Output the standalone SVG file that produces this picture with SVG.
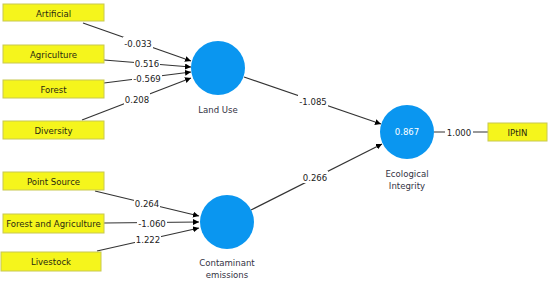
<svg xmlns="http://www.w3.org/2000/svg" width="550" height="284" viewBox="0 0 550 284">
<defs>
<marker id="ah" viewBox="0 0 10 10" refX="10" refY="5" markerWidth="6" markerHeight="6" orient="auto" markerUnits="userSpaceOnUse"><path d="M0,0 L10,5 L0,10 z" fill="#000"/></marker>
</defs>
<style>
.box{fill:#f5f51c;stroke:#c8c850;stroke-width:1}
.bt{font-family:"DejaVu Sans Condensed","DejaVu Sans",sans-serif;font-size:9.5px;fill:#2a2a10;text-anchor:middle;dominant-baseline:central}
.lv{fill:#0a96f0}
.lt{font-family:"DejaVu Sans Condensed","DejaVu Sans",sans-serif;font-size:9.5px;fill:#333344;text-anchor:middle}
.ln{stroke:#333;stroke-width:1.2;fill:none}
.bg{fill:#fff}
.lb{font-family:"DejaVu Sans Condensed","DejaVu Sans",sans-serif;font-size:9.5px;fill:#222;text-anchor:middle;dominant-baseline:central}
</style>
<rect width="550" height="284" fill="#fff"/>
<g id="connectors">
<line class="ln" x1="83" y1="23" x2="191" y2="61" marker-end="url(#ah)"/>
<line class="ln" x1="104" y1="60" x2="191" y2="67" marker-end="url(#ah)"/>
<line class="ln" x1="104" y1="83" x2="191" y2="72" marker-end="url(#ah)"/>
<line class="ln" x1="82" y1="120" x2="191" y2="78" marker-end="url(#ah)"/>
<line class="ln" x1="95" y1="191" x2="199" y2="216" marker-end="url(#ah)"/>
<line class="ln" x1="104" y1="223" x2="199" y2="222" marker-end="url(#ah)"/>
<line class="ln" x1="97" y1="251" x2="199" y2="228" marker-end="url(#ah)"/>
<line class="ln" x1="244" y1="77" x2="381" y2="124" marker-end="url(#ah)"/>
<line class="ln" x1="251" y1="210" x2="382" y2="144" marker-end="url(#ah)"/>
<line class="ln" x1="434" y1="132" x2="488" y2="132"/>
<rect class="bg" x="123" y="37" width="30" height="12"/><text class="lb" x="138" y="43">-0.033</text>
<rect class="bg" x="134" y="57" width="26" height="12"/><text class="lb" x="147" y="63">0.516</text>
<rect class="bg" x="132" y="72" width="30" height="12"/><text class="lb" x="147" y="78">-0.569</text>
<rect class="bg" x="124" y="93" width="26" height="12"/><text class="lb" x="137" y="99">0.208</text>
<rect class="bg" x="134" y="197" width="26" height="12"/><text class="lb" x="147" y="203">0.264</text>
<rect class="bg" x="137" y="217" width="30" height="12"/><text class="lb" x="152" y="223">-1.060</text>
<rect class="bg" x="135" y="233" width="26" height="12"/><text class="lb" x="148" y="239">1.222</text>
<rect class="bg" x="298" y="95" width="30" height="12"/><text class="lb" x="313" y="101">-1.085</text>
<rect class="bg" x="302" y="171" width="26" height="12"/><text class="lb" x="315" y="177">0.266</text>
<rect class="bg" x="445" y="126" width="28" height="12"/><text class="lb" x="459" y="132">1.000</text>
</g>
<g id="artificial"><rect class="box" x="3" y="4" width="101" height="17"/><text class="bt" x="53.5" y="13">Artificial</text></g>
<g id="agriculture"><rect class="box" x="3" y="45" width="101" height="18"/><text class="bt" x="53.5" y="54">Agriculture</text></g>
<g id="forest"><rect class="box" x="3" y="80" width="101" height="18"/><text class="bt" x="53.5" y="89">Forest</text></g>
<g id="diversity"><rect class="box" x="3" y="121" width="101" height="18"/><text class="bt" x="53.5" y="130">Diversity</text></g>
<g id="point-source"><rect class="box" x="3" y="172" width="101" height="18"/><text class="bt" x="53.5" y="181">Point Source</text></g>
<g id="forest-agriculture"><rect class="box" x="3" y="214" width="101" height="19"/><text class="bt" x="53.5" y="223.5">Forest and Agriculture</text></g>
<g id="livestock"><rect class="box" x="1" y="252" width="100" height="19"/><text class="bt" x="51" y="261.5">Livestock</text></g>
<g id="iptin"><rect class="box" x="488" y="123" width="59" height="18"/><text class="bt" x="517.5" y="132">IPtIN</text></g>
<g id="land-use"><circle class="lv" cx="218" cy="68" r="27"/><text class="lt" x="218" y="113">Land Use</text></g>
<g id="contaminant"><circle class="lv" cx="227" cy="222" r="27"/><text class="lt" x="227" y="266">Contaminant</text><text class="lt" x="227" y="278">emissions</text></g>
<g id="ecological"><circle class="lv" cx="407" cy="132" r="27"/><text class="lt" x="407" y="135" style="fill:#fff">0.867</text><text class="lt" x="407" y="177">Ecological</text><text class="lt" x="407" y="189">Integrity</text></g>
</svg>
